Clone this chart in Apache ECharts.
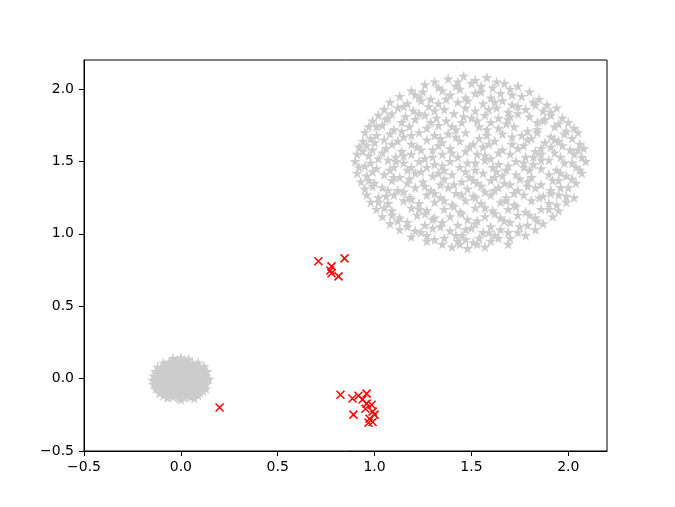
<!DOCTYPE html>
<html><head><meta charset="utf-8">
<script src="https://cdn.jsdelivr.net/npm/echarts@6/dist/echarts.min.js"></script>
<style>html,body{margin:0;padding:0;background:#fff}#c{width:675px;height:507px}</style>
</head><body><div id="c"></div>
<script>
var xTicks = [-0.5, 0.0, 0.5, 1.0, 1.5, 2.0];
var yTicks = [-0.5, 0.0, 0.5, 1.0, 1.5, 2.0];

var bigCluster = [
[1.38,2.07],[1.46,2.09],[1.52,2.06],[1.58,2.08],[1.63,2.05],
[1.26,2.03],[1.31,2.05],[1.42,2.02],[1.50,2.04],[1.61,2.01],[1.67,2.04],[1.74,2.02],
[1.19,1.99],[1.25,1.98],[1.35,1.99],[1.44,2.00],[1.55,1.98],[1.65,1.97],[1.70,2.00],[1.80,1.98],
[1.13,1.95],[1.21,1.96],[1.29,1.93],[1.39,1.96],[1.47,1.94],[1.52,1.97],[1.60,1.94],[1.76,1.95],[1.85,1.93],
[1.08,1.91],[1.17,1.90],[1.24,1.92],[1.33,1.90],[1.43,1.91],[1.56,1.90],[1.66,1.92],[1.71,1.89],[1.82,1.91],[1.89,1.89],
[1.05,1.86],[1.12,1.87],[1.20,1.85],[1.28,1.88],[1.36,1.86],[1.47,1.87],[1.52,1.85],[1.63,1.87],[1.69,1.84],[1.78,1.86],[1.87,1.85],[1.94,1.87],
[1.02,1.82],[1.09,1.83],[1.16,1.81],[1.26,1.82],[1.32,1.80],[1.41,1.83],[1.57,1.82],[1.64,1.80],[1.74,1.83],[1.80,1.81],[1.91,1.82],[1.97,1.80],
[0.99,1.78],[1.06,1.79],[1.14,1.77],[1.21,1.79],[1.37,1.78],[1.45,1.77],[1.50,1.80],[1.60,1.77],[1.69,1.79],[1.84,1.77],[1.88,1.79],[2.00,1.77],
[0.97,1.74],[1.04,1.75],[1.10,1.72],[1.18,1.74],[1.27,1.73],[1.33,1.75],[1.42,1.72],[1.54,1.74],[1.64,1.73],[1.72,1.74],[1.79,1.71],[1.93,1.74],[2.03,1.73],
[0.95,1.70],[1.01,1.68],[1.08,1.69],[1.15,1.67],[1.23,1.70],[1.31,1.68],[1.38,1.69],[1.47,1.70],[1.58,1.68],[1.66,1.69],[1.76,1.68],[1.84,1.70],[1.91,1.67],[1.98,1.69],[2.05,1.70],
[0.94,1.64],[1.00,1.63],[1.12,1.64],[1.19,1.62],[1.27,1.65],[1.35,1.63],[1.44,1.64],[1.51,1.62],[1.62,1.64],[1.71,1.62],[1.79,1.65],[1.88,1.63],[1.95,1.64],[2.06,1.62],
[0.92,1.60],[0.99,1.58],[1.06,1.59],[1.14,1.57],[1.22,1.60],[1.30,1.58],[1.39,1.59],[1.47,1.57],[1.56,1.60],[1.66,1.58],[1.74,1.59],[1.83,1.57],[1.91,1.60],[2.01,1.58],[2.08,1.59],
[0.91,1.55],[0.97,1.54],[1.04,1.56],[1.11,1.53],[1.19,1.55],[1.26,1.52],[1.35,1.55],[1.43,1.53],[1.53,1.55],[1.60,1.52],[1.70,1.55],[1.78,1.53],[1.86,1.55],[1.96,1.53],[2.03,1.55],
[0.90,1.50],[0.98,1.49],[1.07,1.51],[1.15,1.49],[1.23,1.50],[1.31,1.48],[1.39,1.50],[1.48,1.49],[1.57,1.51],[1.64,1.48],[1.73,1.50],[1.82,1.48],[1.90,1.51],[1.98,1.49],[2.09,1.50],
[0.92,1.46],[1.01,1.45],[1.10,1.46],[1.17,1.44],[1.27,1.46],[1.36,1.44],[1.44,1.46],[1.52,1.44],[1.61,1.46],[1.68,1.44],[1.77,1.46],[1.86,1.45],[1.94,1.44],[2.04,1.46],
[0.91,1.42],[0.96,1.40],[1.05,1.41],[1.13,1.39],[1.21,1.42],[1.30,1.40],[1.40,1.41],[1.49,1.39],[1.56,1.42],[1.66,1.40],[1.73,1.41],[1.81,1.39],[1.90,1.41],[1.99,1.40],[2.07,1.42],
[0.93,1.36],[1.00,1.35],[1.09,1.37],[1.17,1.35],[1.25,1.36],[1.34,1.34],[1.45,1.36],[1.53,1.35],[1.60,1.37],[1.70,1.34],[1.79,1.36],[1.86,1.34],[1.95,1.37],[2.04,1.35],
[0.95,1.31],[1.04,1.32],[1.12,1.30],[1.21,1.32],[1.29,1.30],[1.38,1.32],[1.48,1.31],[1.57,1.29],[1.64,1.32],[1.74,1.30],[1.83,1.32],[1.91,1.30],[2.00,1.32],
[0.96,1.27],[1.02,1.25],[1.10,1.27],[1.18,1.25],[1.27,1.27],[1.34,1.25],[1.42,1.28],[1.51,1.26],[1.60,1.27],[1.68,1.25],[1.77,1.27],[1.87,1.26],[1.95,1.27],[2.03,1.25],
[0.98,1.22],[1.07,1.21],[1.15,1.23],[1.23,1.21],[1.31,1.22],[1.40,1.20],[1.47,1.23],[1.55,1.21],[1.65,1.22],[1.72,1.20],[1.81,1.23],[1.90,1.21],[1.99,1.22],
[1.01,1.17],[1.09,1.16],[1.19,1.18],[1.27,1.16],[1.36,1.17],[1.44,1.15],[1.52,1.18],[1.61,1.16],[1.69,1.17],[1.78,1.15],[1.86,1.17],[1.95,1.16],
[1.04,1.12],[1.13,1.11],[1.22,1.13],[1.31,1.11],[1.39,1.12],[1.48,1.10],[1.57,1.12],[1.65,1.11],[1.74,1.13],[1.83,1.11],[1.92,1.12],
[1.08,1.07],[1.17,1.08],[1.26,1.06],[1.35,1.08],[1.43,1.06],[1.52,1.07],[1.60,1.05],[1.70,1.08],[1.79,1.06],[1.87,1.07],
[1.13,1.03],[1.21,1.02],[1.30,1.04],[1.39,1.02],[1.47,1.03],[1.56,1.01],[1.65,1.03],[1.74,1.01],[1.83,1.03],
[1.19,0.98],[1.27,0.99],[1.36,0.97],[1.45,0.99],[1.54,0.97],[1.62,0.99],[1.70,0.97],[1.78,0.99],
[1.27,0.95],[1.35,0.93],[1.43,0.95],[1.51,0.94],[1.60,0.95],[1.69,0.93],
[1.40,0.91],[1.48,0.90],[1.57,0.91],
[1.43,2.05],[1.55,2.02],[1.33,2.01],[1.71,1.96],[1.23,1.94],[1.48,1.92],[1.62,1.91],[1.37,1.93],[1.15,1.88],[1.31,1.85],
[1.59,1.86],[1.74,1.88],[1.83,1.89],[1.91,1.84],[1.07,1.80],[1.23,1.83],[1.46,1.81],[1.53,1.78],[1.70,1.81],[1.87,1.78],
[1.95,1.76],[1.01,1.74],[1.14,1.71],[1.29,1.77],[1.40,1.74],[1.58,1.72],[1.68,1.76],[1.84,1.72],[1.99,1.71],[0.98,1.66],
[1.05,1.65],[1.19,1.68],[1.34,1.66],[1.42,1.67],[1.54,1.66],[1.71,1.67],[1.81,1.66],[1.93,1.65],[2.02,1.66],[0.96,1.61],
[1.09,1.62],[1.24,1.58],[1.33,1.61],[1.49,1.60],[1.59,1.62],[1.77,1.61],[1.86,1.59],[1.97,1.61],[2.05,1.58],[0.94,1.57],
[1.02,1.52],[1.15,1.54],[1.30,1.53],[1.40,1.56],[1.57,1.54],[1.64,1.56],[1.82,1.53],[1.93,1.56],[2.07,1.53],[0.95,1.47],
[1.11,1.50],[1.19,1.46],[1.35,1.47],[1.52,1.49],[1.69,1.47],[1.77,1.49],[1.86,1.51],[2.02,1.49],[0.99,1.43],[1.08,1.44],
[1.24,1.43],[1.33,1.42],[1.47,1.43],[1.63,1.43],[1.80,1.44],[1.96,1.42],[2.06,1.44],[0.97,1.37],[1.10,1.39],[1.18,1.38],
[1.36,1.38],[1.51,1.37],[1.62,1.39],[1.75,1.38],[1.92,1.37],[2.02,1.38],[0.99,1.33],[1.07,1.30],[1.26,1.33],[1.41,1.34],
[1.55,1.33],[1.67,1.35],[1.79,1.33],[1.96,1.32],[1.06,1.26],[1.15,1.29],[1.31,1.28],[1.45,1.27],[1.62,1.30],[1.72,1.28],
[1.91,1.28],[1.99,1.26],[1.02,1.22],[1.19,1.24],[1.36,1.23],[1.52,1.25],[1.68,1.23],[1.85,1.25],[1.94,1.20],[1.05,1.18],
[1.23,1.17],[1.41,1.19],[1.57,1.18],[1.73,1.19],[1.90,1.17],[1.09,1.13],[1.26,1.14],[1.45,1.14],[1.62,1.14],[1.80,1.13],
[1.12,1.09],[1.30,1.10],[1.53,1.09],[1.67,1.09],[1.84,1.09],[1.17,1.05],[1.34,1.05],[1.50,1.04],[1.75,1.05],[1.24,1.01],
[1.42,0.99],[1.59,1.01],[1.69,1.01],[1.31,0.96],[1.47,0.96],[1.64,0.97],[1.53,0.93],[1.44,0.93]
];

var smallCluster = [
[-0.04,0.14],[0.00,0.145],[0.04,0.135],
[-0.09,0.11],[-0.06,0.115],[-0.03,0.105],[0.00,0.11],[0.03,0.115],[0.06,0.105],[0.09,0.11],
[-0.12,0.08],[-0.09,0.075],[-0.06,0.085],[-0.03,0.08],[0.00,0.075],[0.03,0.085],[0.06,0.08],[0.09,0.075],[0.12,0.085],
[-0.13,0.05],[-0.10,0.045],[-0.07,0.055],[-0.04,0.05],[-0.01,0.045],[0.02,0.055],[0.05,0.05],[0.08,0.045],[0.11,0.055],[0.135,0.05],
[-0.14,0.02],[-0.11,0.015],[-0.08,0.025],[-0.05,0.02],[-0.02,0.015],[0.01,0.025],[0.04,0.02],[0.07,0.015],[0.10,0.025],[0.13,0.02],
[-0.145,-0.01],[-0.12,-0.005],[-0.09,-0.015],[-0.06,-0.01],[-0.03,-0.005],[0.00,-0.015],[0.03,-0.01],[0.06,-0.005],[0.09,-0.015],[0.12,-0.01],[0.145,-0.005],
[-0.14,-0.04],[-0.11,-0.035],[-0.08,-0.045],[-0.05,-0.04],[-0.02,-0.035],[0.01,-0.045],[0.04,-0.04],[0.07,-0.035],[0.10,-0.045],[0.13,-0.04],
[-0.13,-0.07],[-0.10,-0.065],[-0.07,-0.075],[-0.04,-0.07],[-0.01,-0.065],[0.02,-0.075],[0.05,-0.07],[0.08,-0.065],[0.11,-0.075],[0.13,-0.07],
[-0.11,-0.10],[-0.08,-0.095],[-0.05,-0.105],[-0.02,-0.10],[0.01,-0.095],[0.04,-0.105],[0.07,-0.10],[0.10,-0.095],
[-0.07,-0.13],[-0.04,-0.125],[-0.01,-0.135],[0.02,-0.13],[0.05,-0.125],[0.07,-0.135],
[-0.02,0.125],[0.02,0.125],[-0.075,0.095],[-0.045,0.095],[-0.015,0.09],[0.015,0.095],[0.045,0.09],[0.075,0.095],
[-0.105,0.065],[-0.075,0.07],[-0.045,0.065],[-0.015,0.06],[0.015,0.065],[0.045,0.07],[0.075,0.06],[0.105,0.065],
[-0.125,0.035],[-0.095,0.03],[-0.065,0.035],[-0.035,0.03],[-0.005,0.035],[0.025,0.03],[0.055,0.035],[0.085,0.03],[0.115,0.035],
[-0.13,0.005],[-0.10,0.0],[-0.07,0.005],[-0.04,0.0],[-0.01,0.005],[0.02,0.0],[0.05,0.005],[0.08,0.0],[0.11,0.005],[0.135,0.0],
[-0.125,-0.025],[-0.095,-0.02],[-0.065,-0.025],[-0.035,-0.02],[-0.005,-0.025],[0.025,-0.02],[0.055,-0.025],[0.085,-0.02],[0.115,-0.025],
[-0.12,-0.055],[-0.09,-0.05],[-0.06,-0.055],[-0.03,-0.05],[0.00,-0.055],[0.03,-0.05],[0.06,-0.055],[0.09,-0.05],[0.12,-0.055],
[-0.095,-0.085],[-0.065,-0.08],[-0.035,-0.085],[-0.005,-0.08],[0.025,-0.085],[0.055,-0.08],[0.085,-0.085],[0.115,-0.085],
[-0.09,-0.115],[-0.06,-0.115],[-0.03,-0.115],[0.00,-0.115],[0.03,-0.115],[0.06,-0.115],[0.09,-0.115],[0.00,-0.145]
];

var outliers = [
[0.71,0.81],[0.778,0.775],[0.845,0.83],[0.778,0.727],[0.814,0.706],[0.772,0.747],
[0.20,-0.20],
[0.824,-0.111],[0.886,-0.138],[0.917,-0.118],[0.959,-0.104],[0.938,-0.145],[0.959,-0.173],
[0.985,-0.180],[0.891,-0.249],[0.990,-0.228],[1.000,-0.249],[0.974,-0.277],[0.969,-0.305],
[0.990,-0.300],[0.953,-0.208]
];

var STAR = 'path://M50,0 L61,35 L98,35 L68,57 L79,91 L50,70 L21,91 L32,57 L2,35 L39,35 Z';
var CROSS = 'path://M0,0 L10,10 M10,0 L0,10';

function fmt(v){ return v.toFixed(1).replace('-', '\u2212'); }

var chart = echarts.init(document.getElementById('c'), null, {renderer:'canvas'});
var axisCommon = {
  axisLine:{show:true,onZero:false,lineStyle:{color:'#000',width:1}},
  axisTick:{show:true,inside:false,length:5,lineStyle:{color:'#000',width:1}},
  splitLine:{show:false}
};
chart.setOption({
  animation:false,
  grid:{left:84,right:68,top:60,bottom:56,show:true,borderColor:'#000',borderWidth:1,containLabel:false},
  xAxis: Object.assign({type:'value',min:-0.5,max:2.2,interval:0.5}, axisCommon,
    {axisLabel:{color:'#000',fontFamily:'DejaVu Sans',fontSize:14,margin:9,showMaxLabel:false,
      formatter:function(v){ return xTicks.indexOf(Math.round(v*10)/10) >= 0 ? fmt(v) : ''; }}}),
  yAxis: Object.assign({type:'value',min:-0.5,max:2.2,interval:0.5}, axisCommon,
    {axisLabel:{color:'#000',fontFamily:'DejaVu Sans',fontSize:14,margin:10,showMaxLabel:false,
      formatter:function(v){ return yTicks.indexOf(Math.round(v*10)/10) >= 0 ? fmt(v) : ''; }}}),
  series:[
    {type:'scatter',data:bigCluster,symbol:STAR,symbolSize:11,itemStyle:{color:'#cccccc',opacity:1},z:2},
    {type:'scatter',data:smallCluster,symbol:STAR,symbolSize:11,itemStyle:{color:'#cccccc',opacity:1},z:2},
    {type:'scatter',data:outliers,symbol:CROSS,symbolSize:8,
      itemStyle:{color:'none',borderColor:'#ff0000',borderWidth:1.5,opacity:1},z:3}
  ]
});
</script>
</body></html>
